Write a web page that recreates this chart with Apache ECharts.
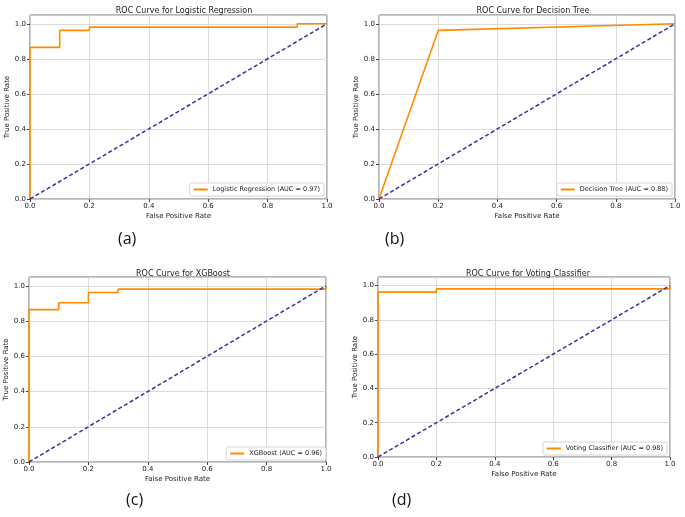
<!DOCTYPE html>
<html>
<head>
<meta charset="utf-8">
<script src="https://cdn.jsdelivr.net/npm/echarts@6/dist/echarts.min.js"></script>
<style>
  html, body { margin: 0; padding: 0; background: #fff; }
  #main { width: 685px; height: 517px; }
</style>
</head>
<body>
<div id="main"></div>
<script>
// ROC curves, one panel per model
var names = ['Logistic Regression', 'Decision Tree', 'XGBoost', 'Voting Classifier'];
var aucs = ['0.97', '0.88', '0.96', '0.98'];
var captions = ['(a)', '(b)', '(c)', '(d)'];

var fprLR = [0, 0, 0.1, 0.1, 0.2, 0.2, 0.9, 0.9, 1.0];
var tprLR = [0, 0.865, 0.865, 0.962, 0.962, 0.981, 0.981, 1.0, 1.0];

var fprDT = [0, 0.2, 1.0];
var tprDT = [0, 0.962, 1.0];

var fprXGB = [0, 0, 0.1, 0.1, 0.2, 0.2, 0.3, 0.3, 1.0, 1.0];
var tprXGB = [0, 0.865, 0.865, 0.904, 0.904, 0.962, 0.962, 0.981, 0.981, 1.0];

var fprVC = [0, 0, 0.2, 0.2, 1.0, 1.0];
var tprVC = [0, 0.962, 0.962, 0.981, 0.981, 1.0];

var diagX = [0, 1];
var diagY = [0, 1];

var fprs = [fprLR, fprDT, fprXGB, fprVC];
var tprs = [tprLR, tprDT, tprXGB, tprVC];

// layout (pixels)
var grids = [
    {left: 30, top: 15, width: 297, height: 184},
    {left: 379, top: 15, width: 296, height: 184},
    {left: 29, top: 277, width: 297, height: 185},
    {left: 378, top: 277, width: 292, height: 180}
];
var titlePos = [[179, 2], [528, 2], [178, 265], [523, 265]];
var legendPos = [
    {right: 361, top: 183},
    {right: 13, top: 183},
    {right: 359, top: 447},
    {right: 18, top: 442}
];
var captionPos = [[128, 231], [395, 231], [136, 492], [402, 492]];

function zip(a, b) {
    var out = [];
    for (var i = 0; i < a.length; i++) out.push([a[i], b[i]]);
    return out;
}

var font = 'DejaVu Sans';
var option = {
    animation: false,
    backgroundColor: '#fff',
    textStyle: {fontFamily: font},
    title: [], grid: [], xAxis: [], yAxis: [], legend: [], series: [], graphic: []
};

for (var i = 0; i < 4; i++) {
    var label = names[i] + ' (AUC = ' + aucs[i] + ')';
    option.title.push({
        text: 'ROC Curve for ' + names[i],
        left: titlePos[i][0], top: titlePos[i][1], textAlign: 'center',
        textStyle: {fontFamily: font, fontSize: 8, fontWeight: 'normal', color: '#222'}
    });
    option.grid.push({
        left: grids[i].left, top: grids[i].top, width: grids[i].width, height: grids[i].height,
        show: true, borderColor: '#444', borderWidth: 0.8
    });
    option.xAxis.push({
        type: 'value', gridIndex: i, min: 0, max: 1, interval: 0.2,
        name: 'False Positive Rate', nameLocation: 'middle', nameGap: 14,
        nameTextStyle: {fontFamily: font, fontSize: 7, color: '#222'},
        axisLine: {show: false},
        axisTick: {show: true, length: 3, lineStyle: {color: '#444'}},
        axisLabel: {fontFamily: font, fontSize: 7, color: '#222', margin: 4,
            formatter: function (v) { return v.toFixed(1); }},
        splitLine: {show: true, lineStyle: {color: '#d3d3d3', width: 0.8}}
    });
    option.yAxis.push({
        type: 'value', gridIndex: i, min: 0, max: 1.05, interval: 0.2,
        name: 'True Positive Rate', nameLocation: 'middle', nameGap: 19,
        nameTextStyle: {fontFamily: font, fontSize: 7, color: '#222'},
        axisLine: {show: false},
        axisTick: {show: true, length: 3, lineStyle: {color: '#444'}},
        axisLabel: {fontFamily: font, fontSize: 7, color: '#222', margin: 4, showMaxLabel: false,
            formatter: function (v) {
                return Math.abs(v * 5 - Math.round(v * 5)) < 1e-6 ? v.toFixed(1) : '';
            }},
        splitLine: {show: true, lineStyle: {color: '#d3d3d3', width: 0.8}}
    });
    option.legend.push({
        right: legendPos[i].right, top: legendPos[i].top,
        data: [label], icon: 'rect', itemWidth: 14, itemHeight: 2, itemGap: 4,
        padding: [3, 4], borderColor: '#ccc', borderWidth: 0.8, borderRadius: 2,
        backgroundColor: '#fff',
        textStyle: {fontFamily: font, fontSize: 6.5, color: '#222'}
    });
    option.series.push({
        name: label, type: 'line', xAxisIndex: i, yAxisIndex: i,
        data: zip(fprs[i], tprs[i]), showSymbol: false, symbol: 'none',
        lineStyle: {color: '#ff8c00', width: 1.6}, itemStyle: {color: '#ff8c00'},
        z: 3
    });
    option.series.push({
        name: 'diag' + i, type: 'line', xAxisIndex: i, yAxisIndex: i,
        data: zip(diagX, diagY), showSymbol: false, symbol: 'none',
        lineStyle: {color: '#3a2f9e', width: 1.5, type: [4, 2.5]},
        z: 4
    });
    option.graphic.push({
        type: 'text', left: captionPos[i][0] - 10, top: captionPos[i][1],
        style: {text: captions[i], font: '16px "Open Sans"', fill: '#111'}
    });
}

var myChart = echarts.init(document.getElementById('main'));
myChart.setOption(option);
</script>
</body>
</html>
